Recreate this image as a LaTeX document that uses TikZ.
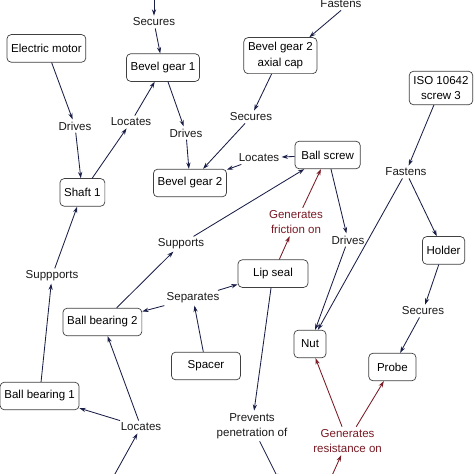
\documentclass[tikz,border=0pt]{standalone}
\usepackage{fontspec}
\setmainfont{Liberation Sans}
\usetikzlibrary{arrows.meta}
\definecolor{linkblue}{RGB}{25,30,70}
\definecolor{linkred}{RGB}{120,25,35}

\begin{document}
\begin{tikzpicture}[
  font=\fontsize{8.2}{11}\selectfont,
  box/.style={draw=black!75, line width=0.5pt, rounded corners=3pt, fill=white,
    inner xsep=3pt, inner ysep=3.5pt, minimum height=0.69cm, align=center},
  rel/.style={inner sep=1.5pt, align=center, text=black!90},
  relred/.style={rel, text=linkred},
  link/.style={-{Stealth[length=4.5pt,width=3pt]}, line width=0.6pt, draw=linkblue},
  linkr/.style={link, draw=linkred},
]
\useasboundingbox (0,0) rectangle (11.85,11.85);

% Components
\node[box] (elmotor) at (1.16,10.64) {Electric motor};
\node[box] (bgone) at (4.075,10.16) {Bevel gear 1};
\node[box] (axcap) at (7.01,10.46) {Bevel gear 2\\axial cap};
\node[box] (iso) at (11.025,9.65) {ISO 10642\\screw 3};
\node[box] (shaft) at (2.06,7.04) {Shaft 1};
\node[box] (bgtwo) at (4.75,7.275) {Bevel gear 2};
\node[box, minimum width=1.63cm] (bscrew) at (8.19,7.975) {Ball screw};
\node[box] (holder) at (11.09,5.59) {Holder};
\node[box, minimum width=1.75cm] (lipseal) at (6.825,5.01) {Lip seal};
\node[box] (bbtwo) at (2.56,3.8) {Ball bearing 2};
\node[box, minimum width=1.73cm] (spacer) at (5.15,2.7) {Spacer};
\node[box, minimum width=0.8cm] (nut) at (7.75,3.25) {Nut};
\node[box, minimum width=1.18cm] (probe) at (9.81,2.675) {Probe};
\node[box] (bbone) at (0.99,1.95) {Ball bearing 1};

% Relations
\node[rel] (secA) at (3.85,11.3) {Secures};
\node[rel] (fastA) at (8.525,11.75) {Fastens};
\node[rel] (drvA) at (1.875,8.7) {Drives};
\node[rel] (locA) at (3.275,8.8) {Locates};
\node[rel] (drvB) at (4.65,8.525) {Drives};
\node[rel] (secB) at (6.275,8.925) {Secures};
\node[rel] (locB) at (6.475,7.9) {Locates};
\node[rel] (fastB) at (10.15,7.55) {Fastens};
\node[relred] (genfric) at (7.4,6.3) {Generates\\friction on};
\node[rel] (drvC) at (8.7,5.85) {Drives};
\node[rel] (supA) at (4.525,5.75) {Supports};
\node[rel] (supB) at (1.3,4.95) {Suppports};
\node[rel] (sep) at (4.825,4.4) {Separates};
\node[rel] (secC) at (10.575,4.075) {Secures};
\node[rel] (locC) at (3.525,1.175) {Locates};
\node[rel] (prevent) at (6.3,1.2) {Prevents\\penetration of};
\node[relred] (genres) at (8.69,0.825) {Generates\\resistance on};

% Loose ends at the border
\coordinate (topin) at (3.85,12.0);
\coordinate (botA) at (2.79,-0.15);
\coordinate (botB) at (6.975,-0.15);
\coordinate (botC) at (8.25,-0.15);

% Upper part
\draw[link] (topin) -- (secA);
\draw[link] (secA) -- (bgone);
\draw[link] (fastA.south) -- ([xshift=-0.2cm]axcap.north east);
\draw[link] (elmotor) -- (drvA);
\draw[link] (drvA) -- (shaft);
\draw[link] (shaft) -- (locA);
\draw[link] (locA) -- (bgone);
\draw[link] (bgone) -- (drvB);
\draw[link] (drvB) -- (bgtwo);
\draw[link] (axcap) -- (secB);
\draw[link] (secB) -- (bgtwo);
\draw[link] (bscrew) -- (locB);
\draw[link] (locB) -- (bgtwo);

% Right part
\draw[link] (iso) -- (fastB);
\draw[link] (fastB) -- (nut);
\draw[link] (fastB) -- (holder);
\draw[link] (holder) -- (secC);
\draw[link] (secC) -- (probe);
\draw[link] (bscrew) -- (drvC);
\draw[link] (drvC) -- (nut);

% Friction and resistance
\draw[linkr] (genfric) -- (bscrew);
\draw[linkr] (lipseal) -- (genfric);
\draw[linkr] (genres) -- (nut);
\draw[linkr] (genres) -- (probe);
\draw[linkr] (botC) -- (genres);

% Lower left part
\draw[link] (lipseal) -- (prevent);
\draw[link] (prevent) -- (botB);
\draw[link] (bbtwo) -- (supA);
\draw[link] (supA) -- (bscrew);
\draw[link] (sep) -- (bbtwo);
\draw[link] (sep) -- (lipseal);
\draw[link] (spacer) -- (sep);
\draw[link] (bbone) -- (supB);
\draw[link] (supB) -- (shaft);
\draw[link] (locC) -- (bbone);
\draw[link] (locC) -- (bbtwo);
\draw[link] (botA) -- (locC);

\end{tikzpicture}
\end{document}
